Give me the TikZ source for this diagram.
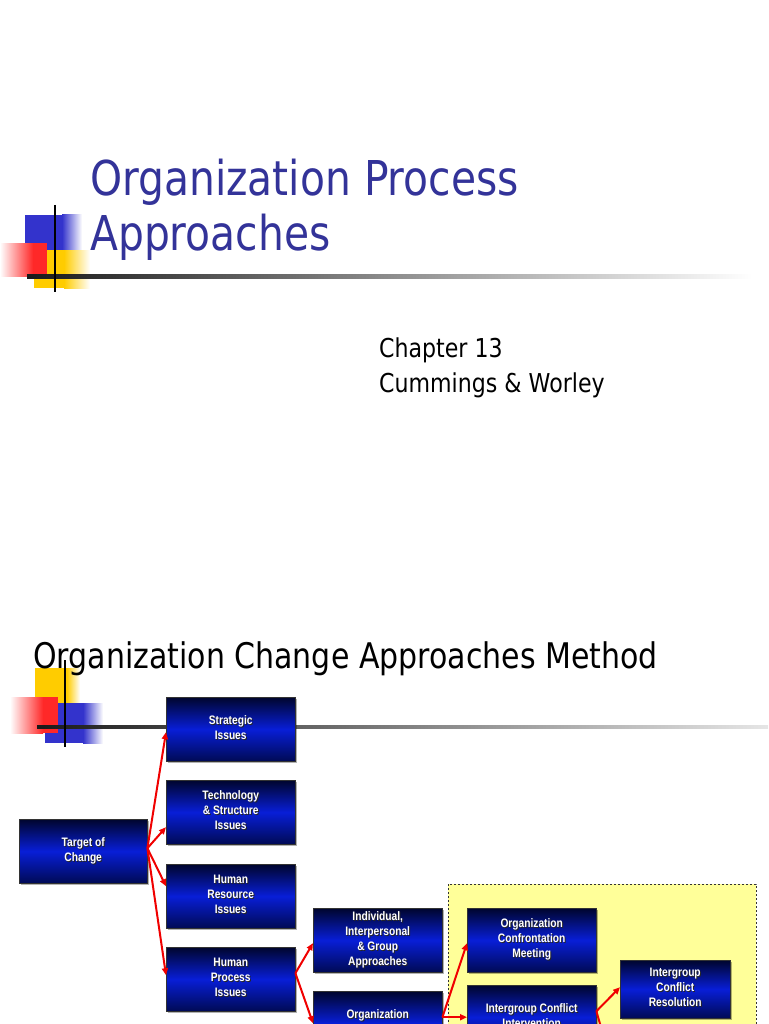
\documentclass[tikz,border=0pt]{standalone}
\usepackage{fontspec}
\usetikzlibrary{shadows,arrows.meta}
\newfontfamily\titlefont{DejaVu Sans}[FakeStretch=0.85]
\newfontfamily\boxfont{Liberation Sans}[FakeStretch=0.83]
\definecolor{titleblue}{RGB}{51,51,153}
\definecolor{decblue}{RGB}{51,51,204}
\definecolor{decred}{RGB}{255,40,40}
\definecolor{decyellow}{RGB}{255,204,0}
\definecolor{boxtop}{RGB}{0,5,45}
\definecolor{boxmid}{RGB}{8,30,215}
\definecolor{boxbot}{RGB}{0,10,85}
\definecolor{panel}{RGB}{255,255,153}
\definecolor{arrowred}{RGB}{240,0,0}
\newcommand\shtxt[1]{\rlap{\kern1pt\raisebox{-1pt}{\color{black!85}\begin{tabular}{@{}c@{}}#1\end{tabular}}}\begin{tabular}{@{}c@{}}#1\end{tabular}}
\tikzset{
  cbox/.style={draw=black!80, line width=0.4pt, top color=boxtop, bottom color=boxbot, middle color=boxmid,
    minimum width=129pt, minimum height=64pt, inner sep=0pt, anchor=north west, text=white,
    font=\boxfont\bfseries\fontsize{12.3}{15}\selectfont,
    drop shadow={shadow xshift=2pt, shadow yshift=-2pt, fill=black, opacity=0.3}},
  conn/.style={draw=arrowred, line width=2pt, -{Triangle[length=7pt,width=6pt]}},
  maintitle/.style={anchor=base west, inner sep=0pt, text=titleblue, font=\titlefont\fontsize{48}{48}\selectfont},
  subtitle/.style={anchor=base west, inner sep=0pt, text=black, font=\titlefont\fontsize{26}{26}\selectfont},
  secondtitle/.style={anchor=base west, inner sep=0pt, text=black, font=\titlefont\fontsize{35.3}{35.3}\selectfont},
}
\begin{document}
\begin{tikzpicture}[x=1pt,y=-1pt]
\path[use as bounding box] (0,0) rectangle (768,1024);
\clip (0,0) rectangle (768,1024);
\fill[white] (0,0) rectangle (768,1024);

% ---------- first slide decoration ----------
\fill[decblue] (25,215) rectangle (62,250);
\shade[left color=decblue, right color=white] (62,215) rectangle (82,250);
\fill[decyellow] (34,250) rectangle (64,288);
\shade[left color=decyellow, right color=white] (64,250) rectangle (90,288);
\shade[left color=white, right color=decred] (0,243) rectangle (33,276);
\fill[decred] (33,243) rectangle (47,276);
\shade[left color=black!90, right color=white] (27,274) rectangle (752,278);
\draw[black, line width=1.5pt] (55,205) -- (55,292);

\node[maintitle] (t1) at (90,196) {Organization Process};
\node[maintitle] (t2) at (90,251) {Approaches};
\node[subtitle] (s1) at (379,357) {Chapter 13};
\node[subtitle] (s2) at (379,392) {Cummings \& Worley};

% ---------- second slide decoration ----------
\fill[decyellow] (35,668) rectangle (67,703);
\shade[left color=decyellow, right color=white] (67,668) rectangle (80,703);
\fill[decblue] (45,703) rectangle (83,743);
\shade[left color=decblue, right color=white] (83,703) rectangle (103,743);
\shade[left color=white, right color=decred] (10,697) rectangle (43,733);
\fill[decred] (43,697) rectangle (58,733);
\shade[left color=black!90, right color=black!10] (37,725.5) rectangle (768,728.5);
\draw[black, line width=1.5pt] (65,660) -- (65,747);

\node[secondtitle] (t3) at (33,668) {Organization Change Approaches Method};

% ---------- panel ----------
\draw[fill=panel, draw=black!80, line width=0.6pt, dash pattern=on 2pt off 2pt] (448,884) rectangle (756,1060);

% ---------- boxes ----------
\node[cbox] (strat) at (166,697) {\shtxt{Strategic\\Issues}};
\node[cbox] (tech) at (166,780) {\shtxt{Technology\\\& Structure\\Issues}};
\node[cbox, minimum width=128pt] (target) at (19,819) {\shtxt{Target of\\Change}};
\node[cbox] (hr) at (166,864) {\shtxt{Human\\Resource\\Issues}};
\node[cbox] (hp) at (166,947) {\shtxt{Human\\Process\\Issues}};
\node[cbox] (indiv) at (313,908) {\shtxt{Individual,\\Interpersonal\\\& Group\\Approaches}};
\node[cbox] (org) at (313,991) {\shtxt{Organization\\\mbox{}}};
\node[cbox] (ocm) at (467,908) {\shtxt{Organization\\Confrontation\\Meeting}};
\node[cbox] (ici) at (467,985) {\shtxt{Intergroup Conflict\\Intervention}};
\node[cbox, minimum width=110pt, minimum height=58pt] (icr) at (620,960) {\shtxt{Intergroup\\Conflict\\Resolution}};
\coordinate (below) at (606,1045);

% ---------- connectors ----------
\draw[conn] ([yshift=3pt]target.east) -- ([yshift=-3pt]strat.west);
\draw[conn] ([yshift=3pt]target.east) -- ([yshift=-15pt]tech.west);
\draw[conn] ([yshift=3pt]target.east) -- ([yshift=10pt]hr.west);
\draw[conn] ([yshift=3pt]target.east) -- ([yshift=4pt]hp.west);
\draw[conn] ([yshift=6pt]hp.east) -- ([yshift=-3pt]indiv.west);
\draw[conn] ([yshift=6pt]hp.east) -- (org.west);
\draw[conn] ([yshift=6pt]org.east) -- ([yshift=-3pt]ocm.west);
\draw[conn] ([yshift=6pt]org.east) -- (ici.west);
\draw[conn] ([yshift=6pt]ici.east) -- ([yshift=2pt]icr.west);
\draw[conn] ([yshift=6pt]ici.east) -- (below);
\end{tikzpicture}
\end{document}
